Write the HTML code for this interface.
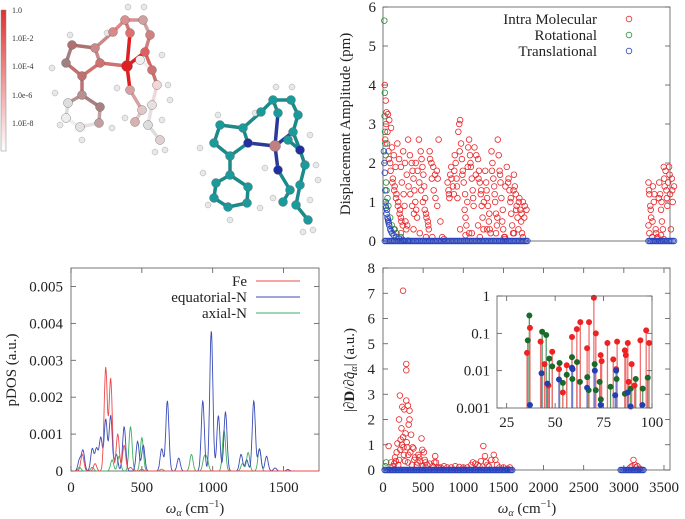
<!DOCTYPE html>
<html><head><meta charset="utf-8"><style>
html,body{margin:0;padding:0;background:#fff}
svg{display:block;font-family:"Liberation Serif",serif}
</style></head><body>
<svg id="fig" width="685" height="519" viewBox="0 0 685 519">
<defs>
<linearGradient id="cbar" x1="0" y1="0" x2="0" y2="1">
<stop offset="0" stop-color="#e03030"/><stop offset="1" stop-color="#ffffff"/></linearGradient>
</defs>
<g id="mol">
<rect x="1" y="10" width="5" height="141" fill="url(#cbar)" stroke="#888" stroke-width="0.5"/>
<g font-size="8" fill="#333">
<text x="12" y="13">1.0</text><text x="12" y="41">1.0E-2</text><text x="12" y="69">1.0E-4</text><text x="12" y="98">1.0e-6</text><text x="12" y="126">1.0E-8</text>
</g>
<g id="mol1"></g>
<g id="mol2"></g>
</g>
<g id="tr"></g>
<g id="bl"></g>
<g id="br"></g>
</svg>
<script>
// ---- Top-right data (freq cm^-1, amplitude pm)
const intraX=[20,30,40,55,70,90,25,45,60,80,100,120,140,110,130,150,170,190,200,220,160,180,200,210,230,240,250,260,280,300,320,330,340,350,360,370,380,400,420,430,440,450,460,470,480,500,510,520,540,560,580,600,610,620,640,660,680,720,730,740,750,760,780,790,800,810,820,830,840,850,860,870,880,890,900,910,920,930,940,950,960,970,980,990,1000,1010,1020,1040,1060,1070,1080,1090,1100,1110,1120,1140,1150,1160,1170,1180,1190,1200,1210,1220,1230,1240,1250,1260,1270,1280,1290,1300,1310,1320,1330,1340,1350,1380,1400,1410,1420,1430,1440,1460,1470,1480,1490,1500,1510,1520,1530,1540,1550,1560,1580,1600,1450,1360,1080,990,920,2960,2970,2980,2990,2960,2970,3000,3010,3020,3040,3060,3080,3090,3100,3110,3120,3130,3140,3150,3160,3170,3180,3190,3200,3210,3220,3230,3060,3130,
35,50,65,85,105,125,145,165,185,205,225,245,265,285,305,325,345,365,385,405,425,445,465,485,505,525,545,565,585,605,735,765,795,825,855,885,915,945,975,1005,1035,1065,1095,1125,1155,1185,1215,1245,1275,1305,1335,1365,1395,1425,1455,1485,1515,1545,1575,2965,2985,3005,3025,3045,3075,3105,3135,3165,3195,3225,3245,60,130,200,270,340,410,480,550,860,960,1060,1160,1260,1360,1460,1560,3100,3180];
const intraY=[4.0,3.6,3.3,3.25,3.1,2.9,2.6,2.5,2.3,2.0,2.4,2.2,1.9,1.6,1.4,1.2,1.0,0.8,0.6,0.4,2.5,2.1,1.9,1.5,1.2,0.9,0.5,0.3,2.6,2.2,2.0,1.8,1.6,1.3,1.0,0.8,0.6,2.6,2.3,2.1,1.9,1.7,1.4,1.1,0.7,0.5,0.3,2.3,2.0,1.9,1.7,1.8,1.6,2.6,0.5,0.1,0.05,1.5,1.3,1.1,1.7,1.9,1.4,1.2,2.2,2.0,1.6,1.1,2.8,3.0,3.1,2.5,2.1,1.8,1.5,0.8,0.6,0.4,1.0,2.4,2.6,2.2,1.9,1.6,1.3,0.9,2.4,2.2,2.1,1.8,1.5,1.2,0.9,0.6,0.3,1.8,1.5,1.1,0.9,0.5,0.3,0.2,2.3,2.0,1.6,1.4,1.0,0.7,0.4,2.6,2.2,1.8,1.5,1.1,0.5,0.3,0.1,1.9,1.6,1.3,1.0,0.7,0.4,1.7,1.4,1.2,0.9,0.6,0.3,1.1,0.8,0.5,0.2,1.0,0.9,0.8,0.2,0.05,0.1,0.2,0.15,1.5,1.2,0.9,0.6,0.4,0.2,0.1,1.4,1.0,0.3,0.1,1.5,1.2,0.8,0.5,0.3,1.9,1.4,1.8,1.3,0.9,1.5,1.9,1.2,0.3,1.6,1.0,0.05,0.05,
3.0,2.8,2.1,1.8,1.5,1.3,1.1,0.9,0.7,0.5,2.3,2.0,1.7,1.4,1.2,0.9,0.7,2.0,1.8,1.5,1.3,1.0,0.8,0.6,0.4,2.1,1.6,1.3,1.1,0.9,1.2,1.6,1.8,1.4,2.3,1.7,1.2,1.9,2.0,1.1,1.7,1.6,1.3,1.0,1.3,0.7,1.8,1.2,0.6,1.7,0.8,1.4,1.5,1.1,1.3,0.8,1.0,0.7,0.6,1.3,0.8,0.5,1.2,0.2,1.1,1.0,1.6,1.1,1.7,1.3,1.4,0.5,0.3,0.2,0.4,0.3,0.2,0.1,0.1,0.3,0.2,0.4,0.3,0.2,0.1,0.2,0.1,0.15];
const rotX=[15,20,18,22,25,30,35,40,50,60,80,100,120,150,200,30];
const rotY=[5.65,3.8,3.2,2.8,2.5,2.2,1.5,1.3,1.1,0.9,0.6,0.4,0.3,0.2,0.1,0.9];
const transX=[10,15,20,25,30,35,40,50,60,70,80,100,120,150,180,220,280,45,55,65,90];
const transY=[2.3,2.0,1.75,1.3,1.0,0.85,0.7,0.6,0.5,0.4,0.3,0.2,0.15,0.1,0.06,0.03,0.01,0.8,0.55,0.45,0.25];
const baseFreqs=[20,35,50,65,80,95,110,125,140,155,170,185,200,215,230,245,260,275,290,305,320,335,350,365,380,395,410,425,440,455,470,485,500,515,530,545,560,575,590,605,620,635,650,665,680,695,710,725,740,755,770,785,800,815,830,845,860,875,890,905,920,935,950,965,980,995,1010,1025,1040,1055,1070,1085,1100,1115,1130,1145,1160,1175,1190,1205,1220,1235,1250,1265,1280,1295,1310,1325,1340,1355,1370,1385,1400,1415,1430,1445,1460,1475,1490,1505,1520,1535,1550,1565,1580,1595,1610,2960,2975,2990,3005,3020,3035,3050,3065,3080,3095,3110,3125,3140,3155,3170,3185,3200,3215,3230,3245];
const topYTicks=[0,1,2,3,4,5,6];
// ---- pDOS peaks
const feMu=[80,170,245,280,330,375,420,500];
const feH=[0.00045,0.0002,0.0028,0.0025,0.001,0.0007,0.0001,0.00005];
const eqMu=[60,85,150,180,210,245,280,320,375,470,510,640,680,760,930,990,1040,1090,1200,1240,1290,1330,1380,1440,1530];
const eqH=[0.0003,0.00055,0.0006,0.0006,0.0009,0.0014,0.0015,0.00045,0.0012,0.0008,0.0007,0.0006,0.0019,0.00035,0.0019,0.0038,0.0015,0.0016,0.00045,0.0003,0.0019,0.0006,0.0004,0.00008,0.00004];
const axMu=[60,150,290,340,420,500,640,850,940,960,1080,1210,1250,1330];
const axH=[0.0001,0.0001,0.0003,0.0004,0.0012,0.0009,0.00005,0.00045,0.00035,0.0003,0.0011,0.0002,0.0005,0.0006];
const pdosYTicks=[0,0.001,0.002,0.003,0.004,0.005];
const pdosYLabels=["0","0.001","0.002","0.003","0.004","0.005"];
const pdosXTicks=[0,500,1000,1500];
// ---- Bottom-right data
const dipRedX=[250,290,290,210,310,330,290,240,265,200,330,320,230,350,280,250,220,180,70,300,380,480,490,450,520,650,1250,1270,1380,1350,3120,3100,100,150,170,200,260,310,360,400,430,500,550,640,700,800,900,1000,1100,1150,1200,1300,1450,1550,3150,3200,
120,140,160,190,215,235,255,275,295,315,340,370,390,420,440,460,510,530,580,620,660,680,720,760,850,950,1050,1120,1180,1220,1280,1320,1400,1420,1500,1580,3080,3140,3170];
const dipRedY=[7.1,4.2,3.95,2.95,2.55,2.35,2.75,2.5,2.4,2.0,2.0,1.8,1.65,1.4,1.45,1.3,1.2,1.05,0.95,0.9,0.85,1.25,0.8,0.5,0.4,0.55,0.95,0.55,0.6,0.4,0.4,0.15,0.3,0.5,0.7,0.4,0.6,0.3,0.2,0.5,0.3,0.15,0.2,0.3,0.1,0.1,0.15,0.1,0.2,0.25,0.15,0.2,0.1,0.05,0.1,0.05,
0.15,0.25,0.35,0.2,0.8,1.0,0.9,0.35,1.1,0.6,0.7,0.9,0.4,0.2,0.6,0.35,0.7,0.3,0.25,0.15,0.3,0.1,0.1,0.15,0.1,0.12,0.1,0.3,0.2,0.35,0.3,0.15,0.4,0.2,0.1,0.1,0.1,0.2,0.15];
const dipGreenX=[40,30];
const dipGreenY=[0.3,0.15];
const brYTicks=[0,1,2,3,4,5,6,7,8];
const brXTicks=[0,500,1000,1500,2000,2500,3000,3500];
// ---- Inset (log)
const insRedX=[35.5,37,42.5,44.5,46.5,48.5,52,54,56,58.7,61.2,63,66.5,67.5,70,71,73.5,74,77,80,82,81.5,86,86.5,87.5,88,89.5,91,94,97,98.5];
const insRedY=[0.03,0.14,0.06,0.015,0.004,0.032,0.011,0.0026,0.014,0.08,0.13,0.2,0.04,0.2,0.9,0.1,0.026,0.018,0.055,0.02,0.06,0.011,0.035,0.026,0.055,0.005,0.015,0.004,0.065,0.12,0.055];
const insGreenX=[35.9,36.7,43.3,45.4,47,48.5,52.3,54,56,58.7,58.9,61.3,62.8,66.6,67.3,70.4,71,73,73.6,78.6,81.7,86,89,91.6,95.2,97.8];
const insGreenY=[0.065,0.3,0.11,0.09,0.021,0.013,0.016,0.0047,0.0078,0.023,0.006,0.017,0.005,0.0067,0.003,0.015,0.003,0.005,0.0017,0.0037,0.006,0.0024,0.0033,0.006,0.0033,0.0065];
const insBlueX=[37,43,46,52,58.7,59,66.5,70.5,73.5,81.5,81,87.5,89,95];
const insBlueY=[0.0012,0.0085,0.0045,0.0058,0.012,0.011,0.0035,0.01,0.0012,0.01,0.0022,0.0026,0.0011,0.0012];
const insXTicks=[25,50,75,100];
const insYTicks=[0.001,0.01,0.1,1];
const insYLabels=["0.001","0.01","0.1","1"];

const NS="http://www.w3.org/2000/svg";
function mk(tag,attrs,parent){const e=document.createElementNS(NS,tag);for(const k in attrs)e.setAttribute(k,attrs[k]);parent.appendChild(e);return e;}
const RED="#e8262a",GREEN="#2a8a3a",BLUE="#2844c0";
const FS=15;

function frame(g,L,R,T,B){
  const r=mk('rect',{x:L,y:T,width:R-L,height:B-T,fill:'none',stroke:'#555','stroke-width':0.8},g);
  
  
}
function tickLabel(g,x,y,txt,anchor,size){
  const t=mk('text',{x:x,y:y,'text-anchor':anchor,'font-size':size||FS,fill:'#222'},g);t.textContent=txt;
  
  
  return t;
}
function circ(g,cx,cy,r,col,fill){
  const c=mk('circle',{cx:cx,cy:cy,r:r,fill:fill?col:'none',stroke:col,'stroke-width':0.8},g);
  
  
  return c;
}
function scatter(g,X,Y,xs,ys,r,col,fill){
  const n=Math.min(X.length,Y.length);
  for(let i=0;i<n;i++)circ(g,xs(X[i]),ys(Y[i]),r,col,fill);
}

// ===== Top-right
(function(){
  const g=document.getElementById('tr');
  const L=383,R=670,T=7,B=241;
  const xs=v=>L+v*(R-L)/3200, ys=v=>B-v*(B-T)/6;
  frame(g,L,R,T,B);
  topYTicks.forEach(v=>{
    mk('line',{x1:L,x2:L+5,y1:ys(v),y2:ys(v),stroke:'#555','stroke-width':0.8},g);
    mk('line',{x1:R,x2:R-5,y1:ys(v),y2:ys(v),stroke:'#555','stroke-width':0.8},g);
    tickLabel(g,L-7,ys(v)+5,String(v),'end');
  });
  const tt=mk('text',{x:0,y:0,transform:'translate(350,124) rotate(-90)','text-anchor':'middle','font-size':FS,fill:'#222'},g);
  tt.textContent='Displacement Amplitude (pm)';
  
  
  scatter(g,intraX,intraY,xs,ys,2.8,RED);
  scatter(g,rotX,rotY,xs,ys,2.8,GREEN);
  scatter(g,transX,transY,xs,ys,2.8,BLUE);
  baseFreqs.forEach(x=>circ(g,xs(x),ys(0),2.8,BLUE));
  const leg=[['Intra Molecular',RED],['Rotational',GREEN],['Translational',BLUE]];
  leg.forEach((l,i)=>{
    const t=mk('text',{x:597,y:24+i*16,'text-anchor':'end','font-size':FS,fill:'#222'},g);t.textContent=l[0];
    
    
    circ(g,629,19+i*16,2.8,l[1]);
  });
})();

// ===== Bottom-left pDOS
(function(){
  const g=document.getElementById('bl');
  const L=71,R=319,T=268,B=471;
  const xs=v=>L+v*(R-L)/1750, ys=v=>B-v*(B-T)/0.0055;
  frame(g,L,R,T,B);
  pdosYTicks.forEach((v,i)=>{
    mk('line',{x1:L,x2:L+5,y1:ys(v),y2:ys(v),stroke:'#555','stroke-width':0.8},g);
    mk('line',{x1:R,x2:R-5,y1:ys(v),y2:ys(v),stroke:'#555','stroke-width':0.8},g);
    tickLabel(g,L-8,ys(v)+5,pdosYLabels[i],'end');
  });
  pdosXTicks.forEach(v=>{
    mk('line',{x1:xs(v),x2:xs(v),y1:B,y2:B-5,stroke:'#555','stroke-width':0.8},g);
    mk('line',{x1:xs(v),x2:xs(v),y1:T,y2:T+5,stroke:'#555','stroke-width':0.8},g);
    tickLabel(g,xs(v),492,String(v),'middle');
  });
  const yt=mk('text',{x:0,y:0,transform:'translate(16,370) rotate(-90)','text-anchor':'middle','font-size':FS,fill:'#222'},g);
  yt.textContent='pDOS (a.u.)';
  
  
  const xt=mk('text',{x:195,y:513,'text-anchor':'middle','font-size':FS,fill:'#222'},g);
  xt.innerHTML='<tspan font-style="italic">ω</tspan><tspan font-size="10" font-style="italic" dy="3">α</tspan><tspan dy="-3"> (cm</tspan><tspan font-size="10" dy="-6">−1</tspan><tspan dy="6">)</tspan>';
  
  
  function curve(mu,h,col,name){
    let d='';
    for(let w=20;w<=1750;w+=3){
      let s=0;mu.forEach((m,i)=>{s+=h[i]*Math.exp(-((w-m)*(w-m))/(2*11*11));});
      d+=(d?'L':'M')+xs(w).toFixed(1)+','+ys(s).toFixed(1);
    }
    const p=mk('path',{d:d,fill:'none',stroke:col,'stroke-width':0.9},g);
    
    
  }
  curve(axMu,axH,'#3cb060','axial-n-line');
  curve(eqMu,eqH,'#3a4cb8','equatorial-n-line');
  curve(feMu,feH,'#ee4a4a','fe-line');
  const leg=[['Fe','#ee4a4a'],['equatorial-N','#3a4cb8'],['axial-N','#3cb060']];
  leg.forEach((l,i)=>{
    const t=mk('text',{x:247,y:286+i*16,'text-anchor':'end','font-size':FS,fill:'#222'},g);t.textContent=l[0];
    
    
    mk('line',{x1:256,x2:300,y1:281+i*16,y2:281+i*16,stroke:l[1],'stroke-width':1},g);
  });
})();

// ===== Bottom-right
(function(){
  const g=document.getElementById('br');
  const L=383,R=670,T=268,B=470;
  const xs=v=>L+v*(R-L)/3575, ys=v=>B-v*(B-T)/8;
  frame(g,L,R,T,B);
  brYTicks.forEach(v=>{
    mk('line',{x1:L,x2:L+5,y1:ys(v),y2:ys(v),stroke:'#555','stroke-width':0.8},g);
    mk('line',{x1:R,x2:R-5,y1:ys(v),y2:ys(v),stroke:'#555','stroke-width':0.8},g);
    tickLabel(g,L-8,ys(v)+5,String(v),'end');
  });
  brXTicks.forEach(v=>{
    mk('line',{x1:xs(v),x2:xs(v),y1:B,y2:B-5,stroke:'#555','stroke-width':0.8},g);
    mk('line',{x1:xs(v),x2:xs(v),y1:T,y2:T+5,stroke:'#555','stroke-width':0.8},g);
    tickLabel(g,xs(v),492,String(v),'middle');
  });
  const yt=mk('text',{x:0,y:0,transform:'translate(354,370) rotate(-90)','text-anchor':'middle','font-size':FS,fill:'#222'},g);
  yt.innerHTML='|∂<tspan font-weight="bold">D</tspan>/∂<tspan font-style="italic">q̂</tspan><tspan font-size="10" font-style="italic" dy="3">α</tspan><tspan dy="-3">| (a.u.)</tspan>';
  
  
  const xt=mk('text',{x:527,y:513,'text-anchor':'middle','font-size':FS,fill:'#222'},g);
  xt.innerHTML='<tspan font-style="italic">ω</tspan><tspan font-size="10" font-style="italic" dy="3">α</tspan><tspan dy="-3"> (cm</tspan><tspan font-size="10" dy="-6">−1</tspan><tspan dy="6">)</tspan>';
  
  
  scatter(g,dipRedX,dipRedY,xs,ys,2.8,RED);
  scatter(g,dipGreenX,dipGreenY,xs,ys,2.8,GREEN);
  baseFreqs.forEach(x=>circ(g,xs(x),ys(0),2.8,BLUE));
  // inset
  const ig=mk('g',{},g);
  
  
  const iL=497,iR=652,iT=296,iB=408;
  const ix=v=>iL+(v-20)*(iR-iL)/80, iy=v=>iB-(Math.log10(v)+3)*(iB-iT)/3;
  mk('rect',{x:iL,y:iT,width:iR-iL,height:iB-iT,fill:'#fff'},ig);
  function stems(X,Y,lc){
    const n=Math.min(X.length,Y.length);
    for(let i=0;i<n;i++){
      const ln=mk('line',{x1:ix(X[i]),x2:ix(X[i]),y1:iy(Y[i]),y2:iB,stroke:lc,'stroke-width':1.3},ig);
      
      
    }
  }
  stems(insGreenX,insGreenY,'#5a9a6a');
  stems(insRedX,insRedY,'#f07070');
  stems(insBlueX,insBlueY,'#6a80d0');
  scatter(ig,insGreenX,insGreenY,ix,iy,2.6,'#1a6a2a',true);
  scatter(ig,insRedX,insRedY,ix,iy,2.6,'#e22',true);
  scatter(ig,insBlueX,insBlueY,ix,iy,2.6,'#2040b0',true);
  frame(ig,iL,iR,iT,iB);
  insYTicks.forEach((v,i)=>{
    mk('line',{x1:iL,x2:iL+5,y1:iy(v),y2:iy(v),stroke:'#555','stroke-width':0.8},ig);
    mk('line',{x1:iR,x2:iR-5,y1:iy(v),y2:iy(v),stroke:'#555','stroke-width':0.8},ig);
    tickLabel(ig,iL-7,iy(v)+5,insYLabels[i],'end');
  });
  insXTicks.forEach(v=>{
    mk('line',{x1:ix(v),x2:ix(v),y1:iB,y2:iB-5,stroke:'#555','stroke-width':0.8},ig);
    mk('line',{x1:ix(v),x2:ix(v),y1:iT,y2:iT+5,stroke:'#555','stroke-width':0.8},ig);
    tickLabel(ig,ix(v),427,String(v),'middle');
  });
})();

// ===== Molecules (illustrative)
(function(){
  const atoms=[[72,45],[95,48],[100,63],[82,76],[66,63],[127,66],[82,95],[68,103],[66,118],[80,127],[99,123],[100,107],[113,32],[125,20],[143,20],[150,35],[145,52],[152,70],[157,85],[152,105],[148,125],[160,140],[130,90],[142,110],[135,122],[130,33],[140,60]];
  const bonds=[[0,1],[1,2],[2,3],[3,4],[4,0],[2,5],[3,6],[6,7],[7,8],[8,9],[9,10],[10,11],[11,6],[1,12],[12,13],[13,14],[14,15],[15,16],[16,17],[17,18],[18,19],[19,20],[20,21],[5,16],[5,22],[22,23],[23,24],[5,25],[25,13],[26,17]];
  const hyd=[[52,68],[70,35],[55,93],[60,125],[82,140],[112,128],[107,33],[128,7],[144,7],[162,55],[168,85],[170,100],[117,88],[125,118],[162,120],[165,150],[155,152]];
  const shade1=['#b07070','#c88','#d07070','#c07070','#a08080','#e02020','#b89090','#ddd','#eee','#e8e0e0','#c0a0a0','#a88080','#d88','#d89090','#d0a0a0','#d08080','#e06060','#d07070','#f0d8d8','#e8e0e0','#ddd','#e0d0d0','#d8a0a0','#e0c8c8','#d8b0b0','#e07070','#f0f0f0'];
  function draw(gid,dx,dy,mol2){
    const g=document.getElementById(gid);
    bonds.forEach(b=>{
      const a=atoms[b[0]],c=atoms[b[1]];
      const col=mol2?((b[0]===5||b[1]===5)?'#2a3a9a':'#1a8a8a'):shade1[b[0]];
      mk('line',{x1:a[0]+dx,y1:a[1]+dy,x2:c[0]+dx,y2:c[1]+dy,stroke:col,'stroke-width':3.5,'stroke-linecap':'round'},g);
    });
    hyd.forEach(h=>{const c=mk('circle',{cx:h[0]+dx,cy:h[1]+dy,r:3,fill:'#e8e8e8',stroke:'#aaa','stroke-width':0.5},g);
      
      });
    atoms.forEach((a,i)=>{
      let col=mol2?'#1a9a9a':shade1[i];
      if(mol2&&i===5)col='#c08080';
      if(mol2&&(i===2||i===17||i===22))col='#2030a0';
      const c=mk('circle',{cx:a[0]+dx,cy:a[1]+dy,r:i===5?5.5:4.5,fill:col,stroke:'#666','stroke-width':0.4},g);
      
      
    });
  }
  draw('mol1',0,0,false);
  draw('mol2',148,80,true);
})();
</script>
</body></html>
